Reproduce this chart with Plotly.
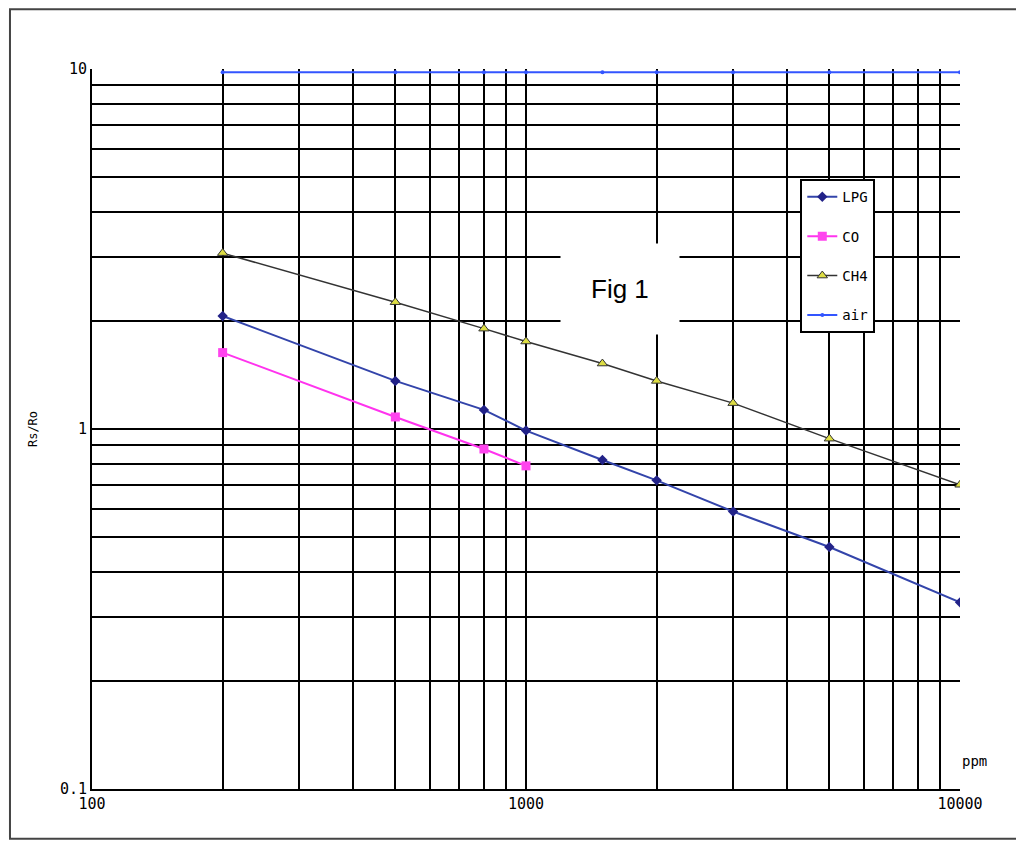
import plotly.graph_objects as go

ppm = [200, 500, 800, 1000, 1500, 2000, 3000, 5000, 10000]
lpg = [2.06, 1.36, 1.13, 0.99, 0.82, 0.72, 0.59, 0.47, 0.33]
co_x = [200, 500, 800, 1000]
co = [1.63, 1.08, 0.88, 0.79]
ch4 = [3.08, 2.25, 1.9, 1.75, 1.52, 1.36, 1.18, 0.94, 0.70]
air = [9.8] * 9

fig = go.Figure()
fig.add_trace(go.Scatter(x=ppm, y=lpg, name="LPG<br> ", mode="lines+markers",
                         line=dict(color="#3344aa", width=2), marker=dict(symbol="diamond", size=8, color="#222288")))
fig.add_trace(go.Scatter(x=co_x, y=co, name="CO<br> ", mode="lines+markers",
                         line=dict(color="#ff33ee", width=2), marker=dict(symbol="square", size=9, color="#ff44ee")))
fig.add_trace(go.Scatter(x=ppm, y=ch4, name="CH4<br> ", mode="lines+markers",
                         line=dict(color="#333333", width=1.5),
                         marker=dict(symbol="triangle-up", size=9, color="#dddd44", line=dict(color="#333", width=1))))
fig.add_trace(go.Scatter(x=ppm, y=air, name="air", mode="lines+markers",
                         line=dict(color="#3355ff", width=2), marker=dict(symbol="circle", size=4, color="#3355ff")))

axfont = dict(family="DejaVu Sans Mono", size=15, color="black")
fig.update_xaxes(type="log", range=[2, 4], tickvals=[100, 1000, 10000], ticktext=["100", "1000", "10000"],
                 showgrid=True, gridcolor="black", gridwidth=1.5,
                 minor=dict(showgrid=True, gridcolor="black", gridwidth=1.5, dtick="D1"),
                 showline=True, linecolor="black", linewidth=2, tickfont=axfont, ticks="")
fig.update_yaxes(type="log", range=[-1, 1], tickvals=[0.1, 1, 10], ticktext=["0.1", "1", "10"],
                 showgrid=True, gridcolor="black", gridwidth=1.5,
                 minor=dict(showgrid=True, gridcolor="black", gridwidth=1.5, dtick="D1"),
                 showline=True, linecolor="black", linewidth=2, tickfont=axfont, ticks="",
                 title=dict(text="Rs/Ro", font=dict(size=12, family="DejaVu Sans Mono", color="black"), standoff=20))

fig.update_layout(
    width=1024, height=847, paper_bgcolor="white", plot_bgcolor="white",
    margin=dict(l=84, r=72, t=61, b=66), font=dict(family="DejaVu Sans Mono", color="black"),
    legend=dict(x=0.816, y=0.847, xanchor="left", yanchor="top", bgcolor="white",
                bordercolor="black", borderwidth=2, font=dict(size=14), tracegroupgap=0,
                valign="top"),
    annotations=[
        dict(text="Fig 1", x=0.677, y=0.758, xref="paper", yref="paper", showarrow=False,
             font=dict(size=26, family="Liberation Sans", color="black"),
             bgcolor="white", borderpad=30),
        dict(text="ppm", x=1.0, y=0.025, xref="paper", yref="paper", xanchor="left", showarrow=False,
             font=dict(size=14, family="DejaVu Sans Mono", color="black")),
    ],
    shapes=[dict(type="rect", xref="paper", yref="paper", x0=-0.0945, x1=1.067, y0=-0.069, y1=1.083,
                 line=dict(color="#444", width=2))],
)
fig.write_html("out.html")
